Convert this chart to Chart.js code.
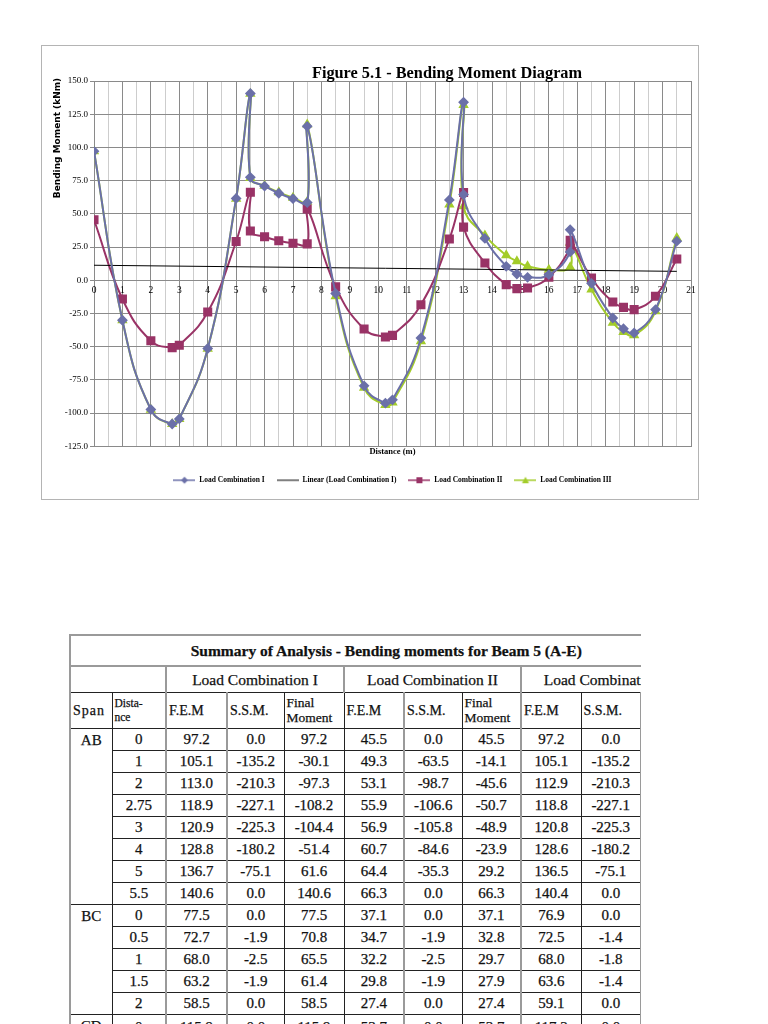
<!DOCTYPE html>
<html>
<head>
<meta charset="utf-8">
<title>Figure 5.1 - Bending Moment Diagram</title>
<script src="https://cdn.jsdelivr.net/npm/chart.js@4.4.0/dist/chart.umd.min.js"></script>
<style>
  html, body { margin: 0; padding: 0; background: #fff; }
  body { width: 768px; height: 1024px; position: relative; overflow: hidden;
         font-family: "Liberation Serif", "Times New Roman", serif; }
  #chartBox { position: absolute; left: 41px; top: 45px; width: 656px; height: 453px;
              border: 1px solid #b4b4b4; }
  #tableBox { position: absolute; left: 69px; top: 634px; width: 572px; height: 390px; overflow: hidden; }
  table { border-collapse: collapse; table-layout: fixed; width: 632px; }
  td { padding: 0; text-align: center; font-size: 15px; line-height: 1; color: #111;
       border: 1px solid #222; white-space: nowrap; -webkit-text-stroke: 0.25px #111; }
  td.g { border-right: 2px solid #9a9a9a; }
  tr.title td { height: 29px; font-weight: bold; font-size: 15.5px; border-top: 2px solid #9a9a9a;
                border-bottom: 2px solid #9a9a9a; }
  tr.combo td { height: 25px; font-size: 15.5px; }
  tr.head td { height: 35px; text-align: left; padding-left: 2px; font-size: 14px; vertical-align: middle; }
  tr.head td.small { font-size: 11.5px; line-height: 1.15; }
  tr.head td.final { font-size: 13.5px; line-height: 1.05; }
  tr.data td { height: 21px; }
  td.span { vertical-align: top; padding-top: 4px; border-bottom: 1px solid #222; }
  td.first { border-left: 2px solid #9a9a9a; }
</style>
</head>
<body>
<div id="chartBox"><canvas id="bmChart" width="656" height="453"></canvas></div>
<div id="tableBox"><table id="summary"></table></div>
<script>
// distance along beam (m): spans AB 0-5.5, BC 5.5-7.5, CD 7.5-13, DE 13-16.75, EF 16.75-20.5
const distance = [0, 1, 2, 2.75, 3, 4, 5, 5.5,
  5.5, 6, 6.5, 7, 7.5,
  7.5, 8.5, 9.5, 10.25, 10.5, 11.5, 12.5, 13,
  13, 13.75, 14.5, 14.875, 15.25, 16, 16.75,
  16.75, 17.5, 18.25, 18.625, 19, 19.75, 20.5];
const comboI = [97.2, -30.1, -97.3, -108.2, -104.4, -51.4, 61.6, 140.6,
  77.5, 70.8, 65.5, 61.4, 58.5,
  115.9, -10, -79.5, -92.5, -90, -43.5, 60.5, 134,
  64.5, 31.5, 10.5, 4.7, 2.2, 4.2, 21.3,
  38, -2.3, -28.4, -36.5, -39.7, -22.1, 29.4];
const comboII = [45.5, -14.1, -45.6, -50.7, -48.9, -23.9, 29.2, 66.3,
  37.1, 32.8, 29.7, 27.9, 27.4,
  53.7, -5, -36.7, -42.7, -41.5, -18.4, 31, 66,
  40, 13, -3.3, -6.3, -5.8, 2.3, 24,
  30, 1.7, -16.4, -20.4, -22.1, -12.1, 16];
const comboIII = [97.2, -30.1, -97.4, -108.3, -104.5, -51.6, 61.4, 140.4,
  76.9, 71.1, 66.2, 62.2, 59.1,
  117.2, -12, -81, -94, -92, -46, 57, 132,
  55.7, 33.6, 18.8, 14.3, 10.5, 8, 9.8,
  28, -7, -32, -39, -41.4, -23.4, 31.9];
// linear trendline of combination I
const trendX = [0, 20.5];
const trendI = [11.3, 6.7];
const xTickLabels = [0,1,2,3,4,5,6,7,8,9,10,11,12,13,14,15,16,17,18,19,20,21];

const seriesNames = ["Load Combination I", "Linear (Load Combination I)", "Load Combination II", "Load Combination III"];
const seriesColors = ["#6b70a8", "#000000", "#993366", "#a3cc2a"];

// table (Summary of Analysis)
const tableTitle = "Summary of Analysis - Bending moments for Beam 5 (A-E)";
const comboHeads = ["Load Combination I", "Load Combination II", "Load Combination III"];
const spanAB = [
  ["0", "97.2", "0.0", "97.2", "45.5", "0.0", "45.5", "97.2", "0.0", "97.2"],
  ["1", "105.1", "-135.2", "-30.1", "49.3", "-63.5", "-14.1", "105.1", "-135.2", "-30.1"],
  ["2", "113.0", "-210.3", "-97.3", "53.1", "-98.7", "-45.6", "112.9", "-210.3", "-97.4"],
  ["2.75", "118.9", "-227.1", "-108.2", "55.9", "-106.6", "-50.7", "118.8", "-227.1", "-108.3"],
  ["3", "120.9", "-225.3", "-104.4", "56.9", "-105.8", "-48.9", "120.8", "-225.3", "-104.5"],
  ["4", "128.8", "-180.2", "-51.4", "60.7", "-84.6", "-23.9", "128.6", "-180.2", "-51.6"],
  ["5", "136.7", "-75.1", "61.6", "64.4", "-35.3", "29.2", "136.5", "-75.1", "61.4"],
  ["5.5", "140.6", "0.0", "140.6", "66.3", "0.0", "66.3", "140.4", "0.0", "140.4"]
];
const spanBC = [
  ["0", "77.5", "0.0", "77.5", "37.1", "0.0", "37.1", "76.9", "0.0", "76.9"],
  ["0.5", "72.7", "-1.9", "70.8", "34.7", "-1.9", "32.8", "72.5", "-1.4", "71.1"],
  ["1", "68.0", "-2.5", "65.5", "32.2", "-2.5", "29.7", "68.0", "-1.8", "66.2"],
  ["1.5", "63.2", "-1.9", "61.4", "29.8", "-1.9", "27.9", "63.6", "-1.4", "62.2"],
  ["2", "58.5", "0.0", "58.5", "27.4", "0.0", "27.4", "59.1", "0.0", "59.1"]
];
const spanCD = [
  ["0", "115.9", "0.0", "115.9", "53.7", "0.0", "53.7", "117.2", "0.0", "117.2"]
];

const SERIF = '"Liberation Serif", "Times New Roman", serif';

// build table
(function(){
  const widths = [42, 54, 61, 57, 60, 60, 58, 59, 60, 60, 61];
  const grayAfter = [1, 2, 5, 7, 9]; // columns with gray right border
  const cls = i => grayAfter.includes(i) ? ' class="g"' : '';
  let html = '<colgroup>' + widths.map(w => `<col style="width:${w}px">`).join('') + '</colgroup>';
  html += `<tr class="title"><td colspan="11" class="first">${tableTitle}</td></tr>`;
  html += `<tr class="combo"><td colspan="2" class="first g"></td>` +
    comboHeads.map((h, i) => `<td colspan="3"${i < 2 ? ' class="g"' : ''}>${h}</td>`).join('') + '</tr>';
  const heads = ["F.E.M", "S.S.M.", "Final<br>Moment"];
  html += '<tr class="head"><td class="first" style="letter-spacing:1px">Span</td><td class="small g">Dista-<br>nce</td>';
  for (let c = 0; c < 9; c++) {
    const k = c % 3;
    const g = grayAfter.includes(c + 2);
    html += `<td class="${k === 2 ? 'final' : ''}${g ? ' g' : ''}">${heads[k]}</td>`;
  }
  html += '</tr>';
  [["AB", spanAB], ["BC", spanBC], ["CD", spanCD]].forEach(([name, rows]) => {
    rows.forEach((r, i) => {
      html += '<tr class="data">';
      if (i === 0) html += `<td rowspan="${rows.length}" class="span first">${name}</td>`;
      r.forEach((v, c) => { html += `<td${cls(c + 1)}>${v}</td>`; });
      html += '</tr>';
    });
  });
  document.getElementById('summary').innerHTML = html;
})();

// legend icon: short line with the series marker
function makeIcon(color, marker) {
  const c = document.createElement('canvas');
  c.width = 22; c.height = 10;
  const g = c.getContext('2d');
  g.strokeStyle = color; g.fillStyle = color; g.lineWidth = marker ? 1.5 : 1;
  g.beginPath(); g.moveTo(0, 5); g.lineTo(22, 5); g.stroke();
  g.beginPath();
  if (marker === 'diamond') { g.moveTo(11, 1.5); g.lineTo(14.5, 5); g.lineTo(11, 8.5); g.lineTo(7.5, 5); }
  if (marker === 'square') { g.rect(8, 2, 6, 6); }
  if (marker === 'triangle') { g.moveTo(11, 1.5); g.lineTo(14.5, 8); g.lineTo(7.5, 8); }
  g.closePath(); if (marker) g.fill();
  return c;
}
const icons = [makeIcon(seriesColors[0], 'diamond'), makeIcon(seriesColors[1], null),
               makeIcon(seriesColors[2], 'square'), makeIcon(seriesColors[3], 'triangle')];

const toPts = (xs, ys) => xs.map((x, i) => ({ x: x, y: ys[i] }));

const textPlugin = {
  id: 'textPlugin',
  beforeDatasetsDraw(chart) {
    const { ctx, scales: { x, y } } = chart;
    const y0 = y.getPixelForValue(0);
    ctx.save();
    ctx.font = '9.5px ' + SERIF;
    ctx.fillStyle = '#000';
    ctx.textAlign = 'center';
    ctx.textBaseline = 'middle';
    xTickLabels.forEach(v => ctx.fillText(String(v), x.getPixelForValue(v), y0 + 10));
    ctx.restore();
  },
  afterDraw(chart) {
    const { ctx } = chart;
    ctx.save();
    ctx.fillStyle = '#000';
    ctx.font = 'bold 16.3px ' + SERIF;
    ctx.textAlign = 'center';
    ctx.textBaseline = 'alphabetic';
    ctx.fillText('Figure 5.1 - Bending Moment Diagram', 405, 32);
    ctx.translate(16, 92);
    ctx.rotate(-Math.PI / 2);
    ctx.font = 'bold 9px "DejaVu Sans", Verdana, sans-serif';
    ctx.textBaseline = 'middle';
    ctx.fillText('Bending Moment (kNm)', 0, 0);
    ctx.restore();
  }
};

new Chart(document.getElementById('bmChart').getContext('2d'), {
  type: 'scatter',
  data: {
    datasets: [
      { label: seriesNames[0], data: toPts(distance, comboI), showLine: true,
        borderColor: seriesColors[0], backgroundColor: seriesColors[0], borderWidth: 2,
        pointStyle: 'rectRot', pointRadius: 4, tension: 0.45 },
      { label: seriesNames[1], data: toPts(trendX, trendI), showLine: true,
        borderColor: seriesColors[1], borderWidth: 1, pointRadius: 0, tension: 0 },
      { label: seriesNames[2], data: toPts(distance, comboII), showLine: true,
        borderColor: seriesColors[2], backgroundColor: seriesColors[2], borderWidth: 2,
        pointStyle: 'rect', pointRadius: 5, tension: 0.45 },
      { label: seriesNames[3], data: toPts(distance, comboIII), showLine: true,
        borderColor: seriesColors[3], backgroundColor: seriesColors[3], borderWidth: 2,
        pointStyle: 'triangle', pointRadius: 4, tension: 0.45 }
    ]
  },
  options: {
    responsive: false,
    animation: false,
    layout: { padding: { top: 35, right: 6, bottom: 5, left: 0 } },
    plugins: {
      tooltip: { enabled: false },
      legend: {
        position: 'bottom',
        fullSize: false,
        labels: {
          usePointStyle: true, pointStyleWidth: 22, padding: 12,
          color: '#000', font: { family: SERIF, size: 7.5, weight: 'bold' },
          generateLabels: chart => chart.data.datasets.map((ds, i) => ({
            text: ds.label, pointStyle: icons[i], datasetIndex: i, hidden: false,
            fillStyle: 'transparent', strokeStyle: 'transparent', lineWidth: 0
          }))
        }
      }
    },
    scales: {
      x: {
        type: 'linear', min: 0, max: 21,
        ticks: { stepSize: 0.5, display: false },
        grid: { drawTicks: false, color: ctx => (ctx.tick && ctx.tick.value % 1 === 0) ? '#8a8a8a' : '#cdcdcd' },
        border: { color: '#8a8a8a' },
        title: { display: true, text: 'Distance (m)', color: '#000',
                 font: { family: SERIF, size: 8.5, weight: 'bold' }, padding: { top: 0, bottom: 8 } }
      },
      y: {
        min: -125, max: 150,
        afterFit: s => { s.width = 52; },
        ticks: { stepSize: 25, padding: 2, color: '#000', font: { family: SERIF, size: 9 },
                 callback: v => v.toFixed(1) },
        grid: { color: '#8a8a8a', tickLength: 4 },
        border: { color: '#8a8a8a' }
      }
    }
  },
  plugins: [textPlugin]
});
</script>
</body>
</html>
